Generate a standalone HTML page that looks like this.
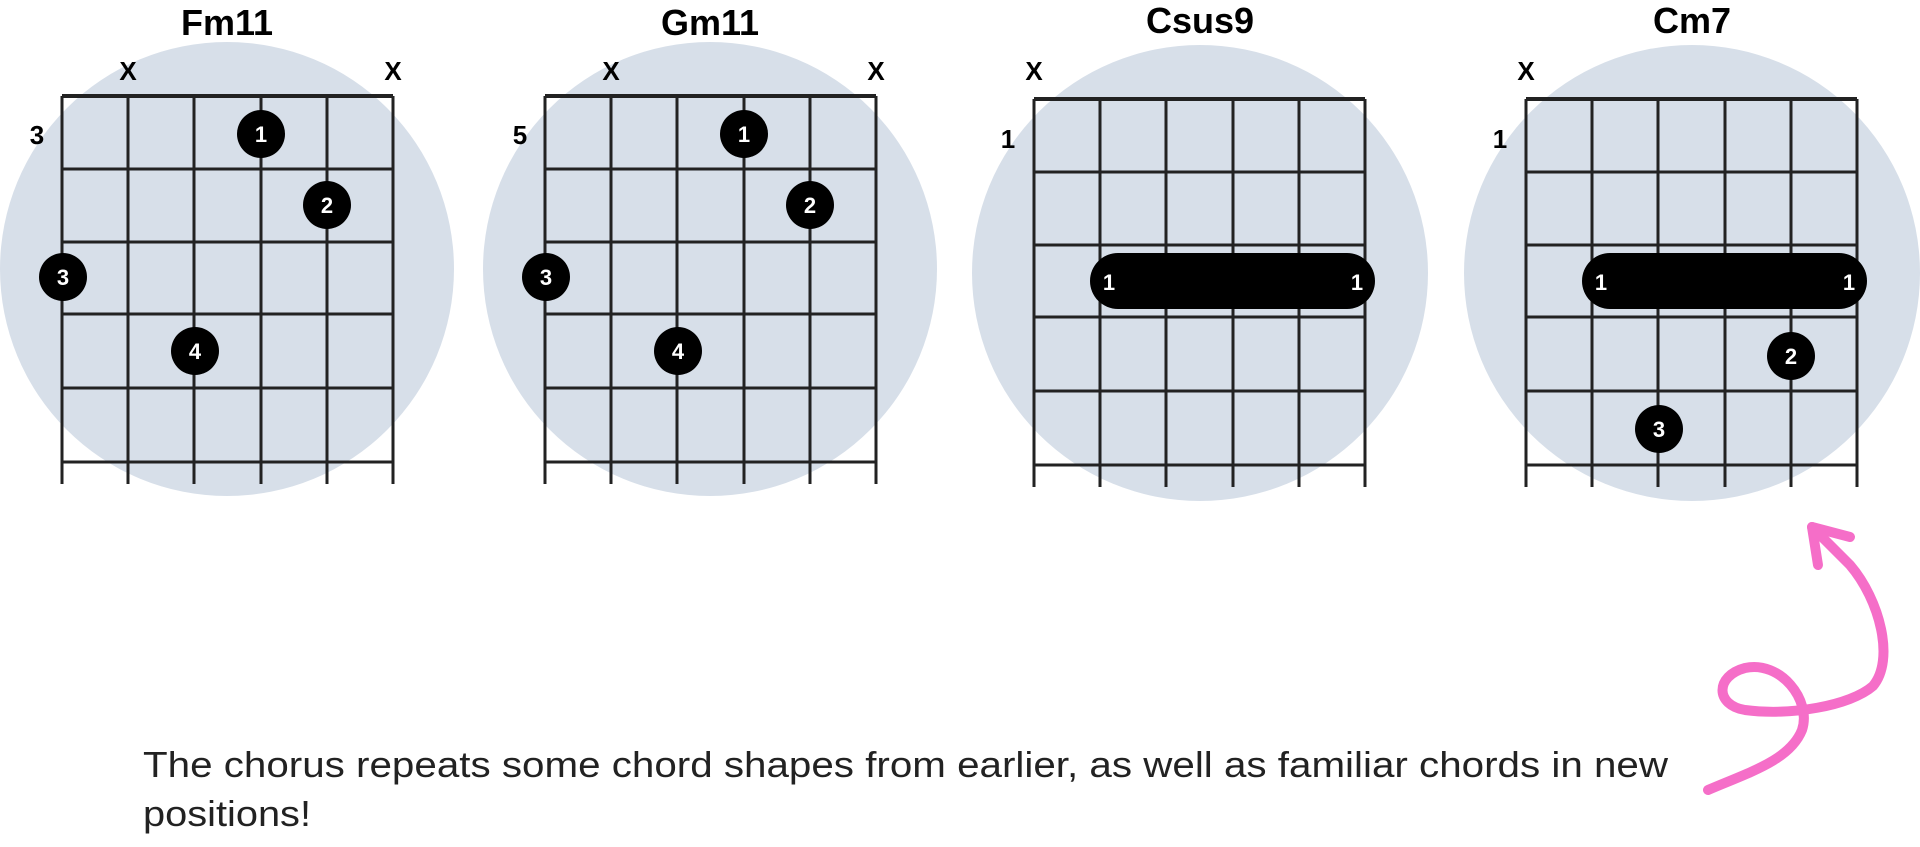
<!DOCTYPE html>
<html><head><meta charset="utf-8"><style>
html,body{margin:0;padding:0;background:#fff;width:1920px;height:847px;overflow:hidden}
svg{display:block}
text{font-family:"Liberation Sans",sans-serif}
.t{font-weight:bold;font-size:36px;text-anchor:middle}
.x{font-weight:bold;font-size:26px;text-anchor:middle}
.n{font-weight:bold;font-size:26px;text-anchor:middle}
.d{font-weight:bold;font-size:22px;fill:#fff;text-anchor:middle}
</style></head><body>
<svg width="1920" height="847" viewBox="0 0 1920 847">
<defs>
<g id="gridA" stroke="#222" stroke-width="3" fill="none">
<line x1="0" y1="0" x2="331" y2="0" stroke-width="4"/>
<line x1="0" y1="73" x2="331" y2="73"/><line x1="0" y1="146" x2="331" y2="146"/>
<line x1="0" y1="218" x2="331" y2="218"/><line x1="0" y1="292" x2="331" y2="292"/>
<line x1="0" y1="366" x2="331" y2="366"/>
<line x1="0" y1="0" x2="0" y2="388"/><line x1="66" y1="0" x2="66" y2="388"/>
<line x1="132" y1="0" x2="132" y2="388"/><line x1="199" y1="0" x2="199" y2="388"/>
<line x1="265" y1="0" x2="265" y2="388"/><line x1="331" y1="0" x2="331" y2="388"/>
</g>
</defs>
<!-- circles -->
<circle cx="227" cy="269" r="227" fill="#d7dfe9"/>
<circle cx="710" cy="269" r="227" fill="#d7dfe9"/>
<circle cx="1200" cy="273" r="228" fill="#d7dfe9"/>
<circle cx="1692" cy="273" r="228" fill="#d7dfe9"/>

<!-- Fm11 -->
<text class="t" x="227" y="35">Fm11</text>
<use href="#gridA" x="62" y="96"/>
<text class="x" x="128" y="80">X</text><text class="x" x="393" y="80">X</text>
<text class="n" x="37" y="144">3</text>
<circle cx="261" cy="134" r="24"/><text class="d" x="261" y="142">1</text>
<circle cx="327" cy="205" r="24"/><text class="d" x="327" y="213">2</text>
<circle cx="63" cy="277" r="24"/><text class="d" x="63" y="285">3</text>
<circle cx="195" cy="351" r="24"/><text class="d" x="195" y="359">4</text>

<!-- Gm11 -->
<text class="t" x="710" y="35">Gm11</text>
<use href="#gridA" x="545" y="96"/>
<text class="x" x="611" y="80">X</text><text class="x" x="876" y="80">X</text>
<text class="n" x="520" y="144">5</text>
<circle cx="744" cy="134" r="24"/><text class="d" x="744" y="142">1</text>
<circle cx="810" cy="205" r="24"/><text class="d" x="810" y="213">2</text>
<circle cx="546" cy="277" r="24"/><text class="d" x="546" y="285">3</text>
<circle cx="678" cy="351" r="24"/><text class="d" x="678" y="359">4</text>

<!-- Csus9 -->
<text class="t" x="1200" y="33">Csus9</text>
<use href="#gridA" x="1034" y="99" />
<text class="x" x="1034" y="80">X</text>
<text class="n" x="1008" y="148">1</text>
<rect x="1090" y="253" width="285" height="56" rx="28" fill="#000"/>
<text class="d" x="1109" y="290">1</text><text class="d" x="1357" y="290">1</text>

<!-- Cm7 -->
<text class="t" x="1692" y="33">Cm7</text>
<use href="#gridA" x="1526" y="99"/>
<text class="x" x="1526" y="80">X</text>
<text class="n" x="1500" y="148">1</text>
<rect x="1582" y="253" width="285" height="56" rx="28" fill="#000"/>
<text class="d" x="1601" y="290">1</text><text class="d" x="1849" y="290">1</text>
<circle cx="1791" cy="356" r="24"/><text class="d" x="1791" y="364">2</text>
<circle cx="1659" cy="429" r="24"/><text class="d" x="1659" y="437">3</text>

<!-- pink arrow -->
<path d="M1708,790 C1750,772 1790,760 1802,730 C1812,700 1780,660 1745,668 C1715,676 1715,705 1745,710 C1790,716 1850,706 1873,686 C1895,660 1880,600 1850,565 L1812,527" fill="none" stroke="#f56ec8" stroke-width="10" stroke-linecap="round" stroke-linejoin="round"/>
<path d="M1818,565 L1812,527 L1850,537" fill="none" stroke="#f56ec8" stroke-width="10" stroke-linecap="round" stroke-linejoin="round"/>

<!-- caption -->
<text x="143" y="777" font-size="36" fill="#222" textLength="1525" lengthAdjust="spacingAndGlyphs">The chorus repeats some chord shapes from earlier, as well as familiar chords in new</text>
<text x="143" y="826" font-size="36" fill="#222" textLength="168" lengthAdjust="spacingAndGlyphs">positions!</text>
</svg>
</body></html>
